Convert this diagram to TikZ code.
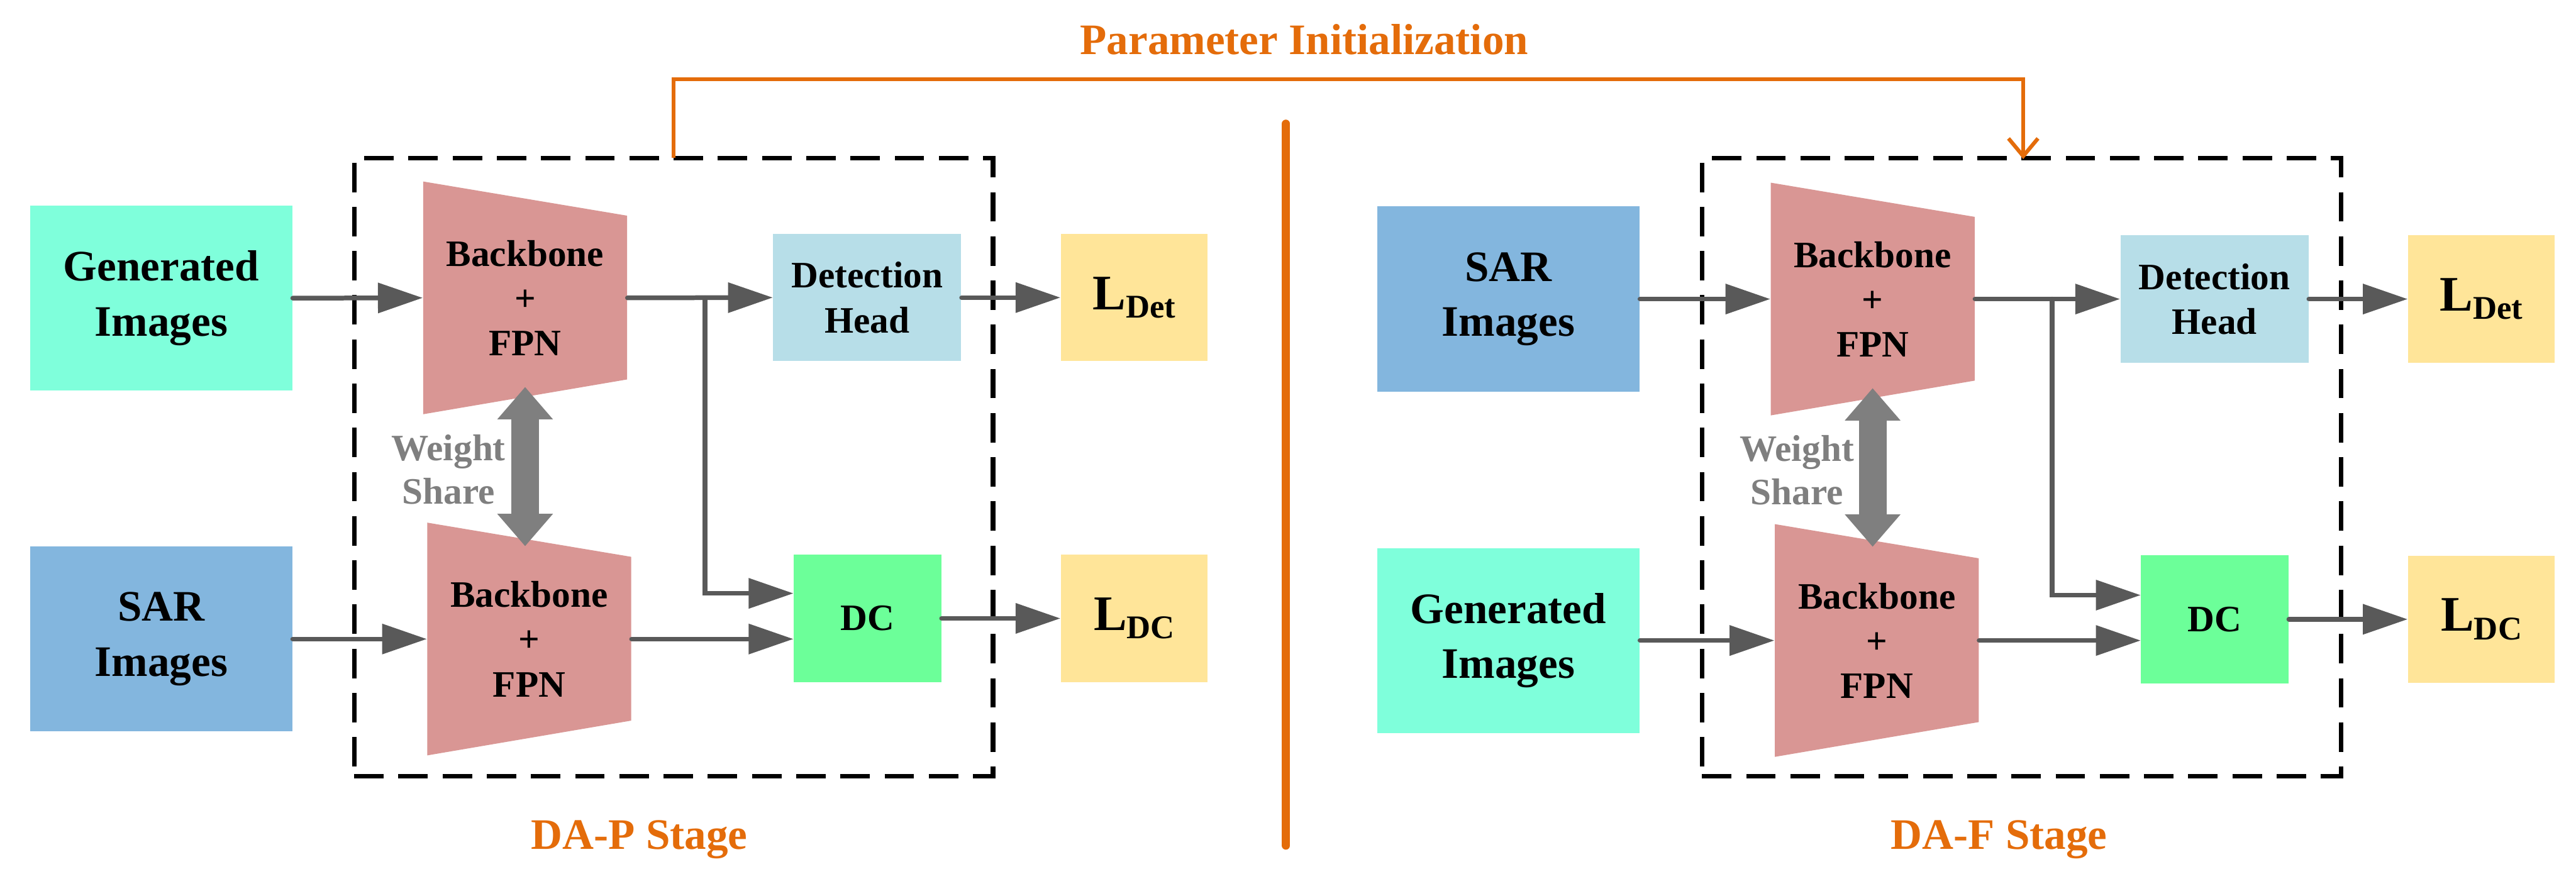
\documentclass[tikz,border=0pt]{standalone}
\usepackage{fontspec}
\setmainfont{Liberation Serif}
\usetikzlibrary{arrows.meta,calc}
\definecolor{genc}{HTML}{7FFFDB}
\definecolor{sarc}{HTML}{83B6DE}
\definecolor{trapc}{HTML}{D99694}
\definecolor{detc}{HTML}{B7DEE8}
\definecolor{dcc}{HTML}{6CFF99}
\definecolor{lossc}{HTML}{FFE599}
\definecolor{flowc}{HTML}{595959}
\definecolor{sharec}{HTML}{7F7F7F}
\definecolor{orangec}{HTML}{E46C0A}
\tikzset{
  inbox/.style={rectangle, minimum width=4.45cm, minimum height=3.14cm, inner sep=0pt, align=center,
     font=\fontsize{21}{26.5}\selectfont\bfseries},
  trapnode/.style={rectangle, minimum width=3.46cm, minimum height=3.95cm, inner sep=0pt, align=center,
     font=\fontsize{18}{21.6}\selectfont\bfseries,
     path picture={\fill[trapc] (path picture bounding box.north west)
        -- ($(path picture bounding box.north east)+(0,-0.58)$)
        -- ($(path picture bounding box.south east)+(0,0.59)$)
        -- (path picture bounding box.south west) -- cycle;}},
  detbox/.style={rectangle, fill=detc, minimum width=3.19cm, minimum height=2.16cm, inner sep=0pt, align=center,
     font=\fontsize{18}{21.6}\selectfont\bfseries},
  dcbox/.style={rectangle, fill=dcc, minimum width=2.50cm, minimum height=2.17cm, inner sep=0pt, align=center,
     font=\fontsize{18}{21.6}\selectfont\bfseries},
  lossbox/.style={rectangle, fill=lossc, minimum width=2.49cm, minimum height=2.16cm, inner sep=0pt, align=center,
     font=\bfseries},
  stagebox/.style={rectangle, draw=black, line width=0.075cm, dash pattern=on 0.5cm off 0.25cm,
     minimum width=10.84cm, minimum height=10.49cm, inner sep=0pt},
  flow/.style={draw=flowc, line width=0.08cm, line cap=round, -{Triangle[length=0.76cm,width=0.50cm]}},
  flowline/.style={draw=flowc, line width=0.08cm, line cap=round},
  share/.style={draw=sharec, line width=0.47cm,
     {Triangle[length=0.55cm,width=0.91cm]}-{Triangle[length=0.55cm,width=0.91cm]}},
  sharetext/.style={text=sharec, align=center, font=\fontsize{18}{21}\selectfont\bfseries},
  stagelabel/.style={text=orangec, font=\fontsize{21}{25}\selectfont\bfseries},
  initline/.style={draw=orangec, line width=0.065cm, -{Straight Barb[length=0.3cm,width=0.5cm]}},
  divider/.style={draw=orangec, line width=0.14cm, line cap=round}
}
\newcommand{\lossL}[1]{{\fontsize{24}{28}\selectfont L}\raisebox{-0.14cm}{\fontsize{16}{19}\selectfont #1}}
\begin{document}
\begin{tikzpicture}
\useasboundingbox (0,0) rectangle (43.71,-15.20);

% ---------- left panel (DA-P) ----------
\node[stagebox] (box1) at (11.43,-7.925) {};
\node[inbox, fill=genc] (gen1) at (2.735,-5.06) {Generated\\Images};
\node[inbox, fill=sarc] (sar1) at (2.735,-10.845) {SAR\\Images};
\node[trapnode] (tt1) at (8.91,-5.055) {Backbone\\+\\FPN};
\node[trapnode] (tb1) at (8.98,-10.845) {Backbone\\+\\FPN};
\node[detbox] (det1) at (14.715,-5.05) {Detection\\Head};
\node[dcbox] (dc1) at (14.72,-10.495) {DC};
\node[lossbox] (ldet1) at (19.245,-5.05) {\lossL{Det}};
\node[lossbox] (ldc1) at (19.245,-10.495) {\lossL{DC}};
\node[sharetext] (ws1) at (7.61,-7.97) {Weight\\Share};
\coordinate (j1) at (11.96,-5.055);

\draw[flow] (gen1.east) -- (tt1.west);
\draw[flow] (sar1.east) -- (tb1.west);
\draw[flow] (tt1.east) -- (det1.west);
\draw[flow] (j1) |- ($(dc1.west)+(0,0.425)$);
\draw[flow] (tb1.east) -- (tb1.east -| dc1.west);
\draw[flow] (det1.east) -- (ldet1.west);
\draw[flow] (dc1.east) -- (ldc1.west);
\draw[share] ([yshift=0.47cm]tt1.south) -- ([yshift=0.47cm]tt1.south |- 0,-9.74);
\node[stagelabel] (st1) at (10.85,-14.25) {DA-P Stage};

% ---------- right panel (DA-F) ----------
\node[stagebox] (box2) at (34.30,-7.925) {};
\node[inbox, fill=sarc] (sar2) at (25.595,-5.075) {SAR\\Images};
\node[inbox, fill=genc] (gen2) at (25.595,-10.87) {Generated\\Images};
\node[trapnode] (tt2) at (31.775,-5.075) {Backbone\\+\\FPN};
\node[trapnode] (tb2) at (31.845,-10.87) {Backbone\\+\\FPN};
\node[detbox] (det2) at (37.575,-5.075) {Detection\\Head};
\node[dcbox] (dc2) at (37.58,-10.51) {DC};
\node[lossbox] (ldet2) at (42.105,-5.075) {\lossL{Det}};
\node[lossbox] (ldc2) at (42.105,-10.51) {\lossL{DC}};
\node[sharetext] (ws2) at (30.49,-7.98) {Weight\\Share};
\coordinate (j2) at (34.82,-5.075);

\draw[flow] (sar2.east) -- (tt2.west);
\draw[flow] (gen2.east) -- (tb2.west);
\draw[flow] (tt2.east) -- (det2.west);
\draw[flow] (j2) |- ($(dc2.west)+(0,0.41)$);
\draw[flow] (tb2.east) -- (tb2.east -| dc2.west);
\draw[flow] (det2.east) -- (ldet2.west);
\draw[flow] (dc2.east) -- (ldc2.west);
\draw[share] ([yshift=0.47cm]tt2.south) -- ([yshift=0.47cm]tt2.south |- 0,-9.75);
\node[stagelabel] (st2) at (33.92,-14.25) {DA-F Stage};

% ---------- parameter initialization ----------
\coordinate (pi1) at (11.43,-2.68);
\coordinate (pi2) at (34.33,-2.70);
\draw[initline] (pi1) -- (11.43,-1.34) -| (pi2);
\node[stagelabel] (pinit) at (22.13,-0.67) {Parameter Initialization};
\draw[divider] (21.82,-2.10) -- (21.82,-14.35);
\end{tikzpicture}
\end{document}
